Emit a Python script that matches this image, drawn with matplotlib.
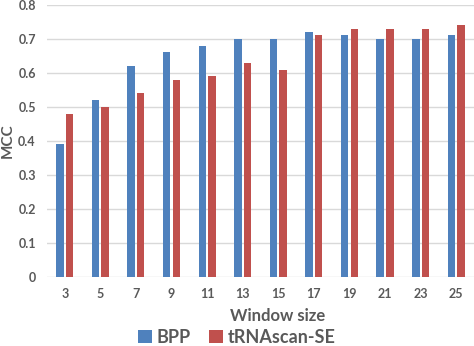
import numpy as np
import matplotlib
matplotlib.use('Agg')
import matplotlib.pyplot as plt

windows = ['3', '5', '7', '9', '11', '13', '15', '17', '19', '21', '23', '25']
bpp = [0.39, 0.52, 0.62, 0.66, 0.68, 0.70, 0.70, 0.72, 0.71, 0.70, 0.70, 0.71]
trnascan = [0.48, 0.50, 0.54, 0.58, 0.59, 0.63, 0.61, 0.71, 0.73, 0.73, 0.73, 0.74]

text_color = '#595959'
plt.rcParams['font.family'] = ['Lato', 'DejaVu Sans']

fig = plt.figure(figsize=(4.74, 3.46), dpi=100)
ax = fig.add_axes([0.099, 0.199, 0.901, 0.787])

x = np.arange(len(windows))
width = 0.21
gap = 0.03
ax.bar(x - width / 2 - gap, bpp, width, color='#4F81BD', label='BPP', zorder=3)
ax.bar(x + width / 2 + gap, trnascan, width, color='#C0504D', label='tRNAscan-SE', zorder=3)

ax.set_xlim(-0.5, len(windows) - 0.5)
ax.set_ylim(0, 0.8)
ax.set_yticks(np.arange(0, 0.81, 0.1))
ax.set_yticklabels(['0'] + ['%.1f' % v for v in np.arange(0.1, 0.81, 0.1)])
ax.set_xticks(x)
ax.set_xticklabels(windows)
ax.tick_params(length=0, labelsize=9, colors=text_color, pad=8)
for lbl in ax.get_xticklabels() + ax.get_yticklabels():
    lbl.set_fontweight('bold')
ax.yaxis.grid(True, color='#D9D9D9', linewidth=1, zorder=0)
for s in ax.spines.values():
    s.set_visible(False)

ax.set_ylabel('MCC', fontsize=11, fontweight='bold', color=text_color)
ax.yaxis.set_label_coords(-0.075, 0.5)
ax.set_xlabel('Window size', fontsize=12, fontweight='bold', color=text_color)
ax.xaxis.set_label_coords(0.54, -0.115)

fig.legend(loc='center', bbox_to_anchor=(0.50, 0.025), ncol=2, frameon=False,
           handlelength=0.75, handleheight=0.75, handletextpad=0.3, columnspacing=1.0,
           prop={'size': 13, 'weight': 'bold'}, labelcolor=text_color)

fig.savefig('out.png', dpi=100, facecolor='white')
